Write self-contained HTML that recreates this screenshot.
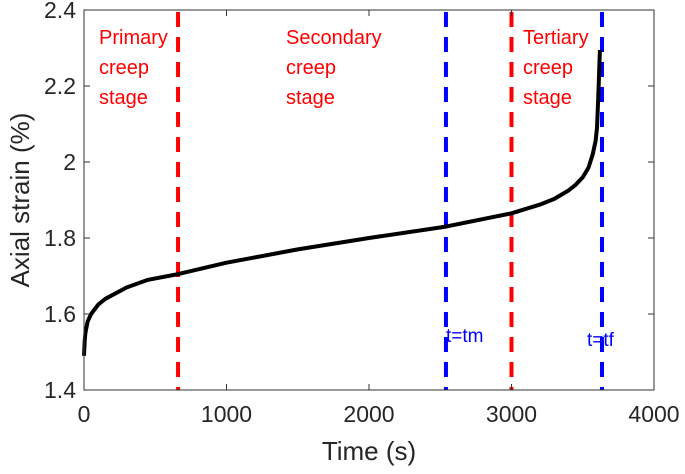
<!DOCTYPE html>
<html><head><meta charset="utf-8"><style>
html,body{margin:0;padding:0;background:#fff}
svg{display:block;font-family:"Liberation Sans",Arial,sans-serif}
</style></head><body>
<svg id="chart" width="685" height="474">
<rect x="0" y="0" width="685" height="474" fill="#fff"/>
<g id="lines"></g>
<g id="axes"></g>
<text x="369" y="460" text-anchor="middle" font-size="26" fill="#262626">Time (s)</text>
<text transform="translate(29,200) rotate(-90)" text-anchor="middle" font-size="26" fill="#262626">Axial strain (%)</text>
<g font-size="20" fill="#ff0000">
<text x="99" y="44"><tspan x="99">Primary</tspan><tspan x="99" dy="30">creep</tspan><tspan x="99" dy="30">stage</tspan></text>
<text x="286" y="44"><tspan x="286">Secondary</tspan><tspan x="286" dy="30">creep</tspan><tspan x="286" dy="30">stage</tspan></text>
<text x="523" y="44"><tspan x="523">Tertiary</tspan><tspan x="523" dy="30">creep</tspan><tspan x="523" dy="30">stage</tspan></text>
</g>
<g font-size="19" fill="#0000ff">
<text x="446" y="342">t=tm</text>
<text x="587" y="346">t=tf</text>
</g>
</svg>
<script>
const times=[0,5,10,25,50,100,150,300,450,660,1000,1500,2000,2540,3000,3200,3300,3400,3450,3500,3540,3570,3590,3600,3610,3620];
const strains=[1.49,1.53,1.55,1.58,1.6,1.625,1.64,1.67,1.69,1.705,1.735,1.77,1.80,1.83,1.865,1.888,1.903,1.925,1.94,1.96,1.985,2.02,2.055,2.09,2.18,2.295];
const xTicks=[0,1000,2000,3000,4000];
const yTicks=[1.4,1.6,1.8,2.0,2.2,2.4];
const yTickLabels=["1.4","1.6","1.8","2","2.2","2.4"];
const stageLines=[660,3000];
const markLines=[2540,3635];
const L=84,R=654,T=10,B=390;
const sx=v=>L+(v-0)/4000*(R-L);
const sy=v=>B-(v-1.4)/1.0*(B-T);
const NS="http://www.w3.org/2000/svg";
const lines=document.getElementById('lines'),axes=document.getElementById('axes');
function mk(tag,attrs,parent){const e=document.createElementNS(NS,tag);for(const k in attrs)e.setAttribute(k,attrs[k]);parent.appendChild(e);return e;}
function vline(t,color,name){
  const e=mk('line',{x1:sx(t),x2:sx(t),y1:T+2,y2:B,stroke:color,'stroke-width':4,'stroke-dasharray':'15 10'},lines);
  
  
}
stageLines.forEach((t,i)=>vline(t,'#ff0000','stage-boundary-'+(i+1)));
markLines.forEach((t,i)=>vline(t,'#0000ff',i===0?'tm-line':'tf-line'));
const p=mk('path',{d:times.map((t,i)=>(i?'L':'M')+sx(t).toFixed(1)+','+sy(strains[i]).toFixed(1)).join(' '),fill:'none',stroke:'#000','stroke-width':4,'stroke-linejoin':'round'},lines);


const box=mk('rect',{x:L,y:T,width:R-L,height:B-T,fill:'none',stroke:'#333','stroke-width':1},axes);


xTicks.forEach(v=>{
  mk('line',{x1:sx(v),x2:sx(v),y1:B,y2:B-6,stroke:'#333'},axes);
  mk('line',{x1:sx(v),x2:sx(v),y1:T,y2:T+6,stroke:'#333'},axes);
  const t=mk('text',{x:sx(v),y:B+32,'text-anchor':'middle','font-size':23,fill:'#262626'},axes);t.textContent=v;
  
  
});
yTicks.forEach((v,i)=>{
  mk('line',{x1:L,x2:L+6,y1:sy(v),y2:sy(v),stroke:'#333'},axes);
  mk('line',{x1:R,x2:R-6,y1:sy(v),y2:sy(v),stroke:'#333'},axes);
  const t=mk('text',{x:L-8,y:sy(v)+8,'text-anchor':'end','font-size':23,fill:'#262626'},axes);t.textContent=yTickLabels[i];
  
  
});
</script>
</body></html>
